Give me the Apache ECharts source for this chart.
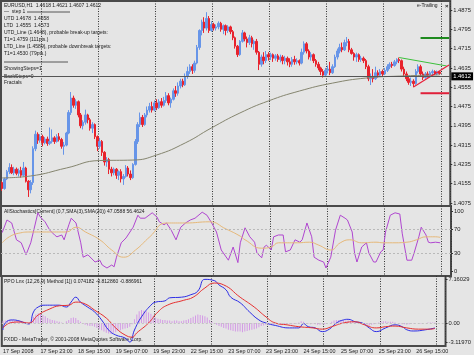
<!DOCTYPE html>
<html>
<head>
<meta charset="utf-8">
<title>EURUSD,H1</title>
<script src="https://cdn.jsdelivr.net/npm/echarts@6/dist/echarts.min.js"></script>
<style>
  html, body { margin:0; padding:0; background:#e5e5e5; }
  #chart { width:474px; height:355px; }
</style>
</head>
<body>
<div id="chart"></div>
<script>
// hourly bars, 17 Sep 07:00 .. 26 Sep 23:00
var opens = [
  1.4160,1.4135,1.4175,1.4205,1.4222,1.4200,1.4215,1.4198,1.4210,1.4190,
  1.4220,1.4165,1.4130,1.4160,1.4300,1.4360,1.4335,1.4350,1.4325,1.4340,
  1.4322,1.4330,1.4345,1.4330,1.4350,1.4338,1.4310,1.4315,1.4365,1.4450,
  1.4510,1.4480,1.4495,1.4440,1.4395,1.4410,1.4440,1.4420,1.4385,1.4400,
  1.4350,1.4310,1.4330,1.4285,1.4245,1.4255,1.4215,1.4200,1.4215,1.4190,
  1.4205,1.4175,1.4185,1.4220,1.4195,1.4180,1.4235,1.4330,1.4400,1.4430,
  1.4400,1.4440,1.4460,1.4475,1.4460,1.4490,1.4470,1.4495,1.4480,1.4500,
  1.4520,1.4490,1.4505,1.4540,1.4530,1.4560,1.4580,1.4565,1.4600,1.4620,
  1.4640,1.4625,1.4655,1.4720,1.4790,1.4825,1.4800,1.4840,1.4790,1.4815,
  1.4800,1.4805,1.4820,1.4795,1.4810,1.4790,1.4805,1.4785,1.4760,1.4725,
  1.4690,1.4745,1.4780,1.4755,1.4740,1.4760,1.4735,1.4745,1.4700,1.4650,
  1.4680,1.4665,1.4690,1.4680,1.4690,1.4675,1.4685,1.4670,1.4680,1.4665,
  1.4675,1.4660,1.4650,1.4670,1.4660,1.4665,1.4655,1.4700,1.4735,1.4705,
  1.4680,1.4690,1.4665,1.4650,1.4635,1.4620,1.4605,1.4625,1.4630,1.4615,
  1.4640,1.4680,1.4705,1.4720,1.4710,1.4740,1.4745,1.4710,1.4695,1.4680,
  1.4690,1.4670,1.4675,1.4665,1.4640,1.4590,1.4600,1.4590,1.4615,1.4605,
  1.4620,1.4610,1.4625,1.4640,1.4650,1.4645,1.4660,1.4670,1.4665,1.4630,
  1.4610,1.4590,1.4575,1.4580,1.4570,1.4620,1.4640,1.4610,1.4595,1.4610,
  1.4605,1.4615,1.4620,1.4610,1.4618
];
var closes = [
  1.4135,1.4175,1.4205,1.4222,1.4200,1.4215,1.4198,1.4210,1.4190,1.4220,
  1.4165,1.4130,1.4160,1.4300,1.4360,1.4335,1.4350,1.4325,1.4340,1.4322,
  1.4330,1.4345,1.4330,1.4350,1.4338,1.4310,1.4315,1.4365,1.4450,1.4510,
  1.4480,1.4495,1.4440,1.4395,1.4410,1.4440,1.4420,1.4385,1.4400,1.4350,
  1.4310,1.4330,1.4285,1.4245,1.4255,1.4215,1.4200,1.4215,1.4190,1.4205,
  1.4175,1.4185,1.4220,1.4195,1.4180,1.4235,1.4330,1.4400,1.4430,1.4400,
  1.4440,1.4460,1.4475,1.4460,1.4490,1.4470,1.4495,1.4480,1.4500,1.4520,
  1.4490,1.4505,1.4540,1.4530,1.4560,1.4580,1.4565,1.4600,1.4620,1.4640,
  1.4625,1.4655,1.4720,1.4790,1.4825,1.4800,1.4840,1.4790,1.4815,1.4800,
  1.4805,1.4820,1.4795,1.4810,1.4790,1.4805,1.4785,1.4760,1.4725,1.4690,
  1.4745,1.4780,1.4755,1.4740,1.4760,1.4735,1.4745,1.4700,1.4650,1.4680,
  1.4665,1.4690,1.4680,1.4690,1.4675,1.4685,1.4670,1.4680,1.4665,1.4675,
  1.4660,1.4650,1.4670,1.4660,1.4665,1.4655,1.4700,1.4735,1.4705,1.4680,
  1.4690,1.4665,1.4650,1.4635,1.4620,1.4605,1.4625,1.4630,1.4615,1.4640,
  1.4680,1.4705,1.4720,1.4710,1.4740,1.4745,1.4710,1.4695,1.4680,1.4690,
  1.4670,1.4675,1.4665,1.4640,1.4590,1.4600,1.4590,1.4615,1.4605,1.4620,
  1.4610,1.4625,1.4640,1.4650,1.4645,1.4660,1.4670,1.4665,1.4630,1.4610,
  1.4590,1.4575,1.4580,1.4570,1.4620,1.4640,1.4610,1.4595,1.4610,1.4605,
  1.4615,1.4620,1.4610,1.4618,1.4612
];
var lows = [
  1.4125,1.4130,1.4170,1.4195,1.4195,1.4190,1.4190,1.4185,1.4180,1.4185,
  1.4160,1.4100,1.4115,1.4150,1.4290,1.4320,1.4325,1.4310,1.4318,1.4312,
  1.4315,1.4322,1.4320,1.4325,1.4330,1.4300,1.4275,1.4310,1.4360,1.4440,
  1.4470,1.4465,1.4430,1.4385,1.4380,1.4400,1.4405,1.4375,1.4365,1.4340,
  1.4290,1.4300,1.4270,1.4230,1.4225,1.4195,1.4185,1.4190,1.4175,1.4170,
  1.4160,1.4150,1.4180,1.4185,1.4170,1.4175,1.4230,1.4320,1.4390,1.4390,
  1.4395,1.4430,1.4450,1.4450,1.4455,1.4460,1.4465,1.4470,1.4475,1.4490,
  1.4480,1.4470,1.4500,1.4515,1.4520,1.4550,1.4555,1.4560,1.4590,1.4610,
  1.4610,1.4615,1.4650,1.4710,1.4770,1.4780,1.4790,1.4780,1.4785,1.4790,
  1.4790,1.4795,1.4785,1.4775,1.4770,1.4780,1.4775,1.4750,1.4715,1.4680,
  1.4685,1.4740,1.4745,1.4720,1.4730,1.4720,1.4710,1.4690,1.4626,1.4640,
  1.4650,1.4655,1.4665,1.4668,1.4660,1.4665,1.4660,1.4658,1.4650,1.4650,
  1.4645,1.4638,1.4640,1.4648,1.4650,1.4645,1.4650,1.4690,1.4695,1.4670,
  1.4665,1.4655,1.4640,1.4625,1.4605,1.4595,1.4600,1.4612,1.4605,1.4610,
  1.4635,1.4670,1.4695,1.4700,1.4705,1.4725,1.4700,1.4690,1.4665,1.4660,
  1.4660,1.4660,1.4655,1.4630,1.4580,1.4564,1.4575,1.4585,1.4595,1.4598,
  1.4600,1.4605,1.4618,1.4630,1.4635,1.4640,1.4650,1.4655,1.4620,1.4600,
  1.4580,1.4565,1.4560,1.4555,1.4565,1.4612,1.4600,1.4585,1.4590,1.4595,
  1.4600,1.4605,1.4605,1.4605,1.4607
];
var highs = [
  1.4165,1.4180,1.4212,1.4240,1.4235,1.4225,1.4222,1.4218,1.4225,1.4245,
  1.4225,1.4170,1.4170,1.4310,1.4375,1.4368,1.4360,1.4358,1.4348,1.4350,
  1.4388,1.4380,1.4352,1.4360,1.4365,1.4345,1.4328,1.4370,1.4460,1.4535,
  1.4520,1.4505,1.4500,1.4448,1.4418,1.4462,1.4445,1.4428,1.4410,1.4405,
  1.4355,1.4345,1.4336,1.4290,1.4265,1.4262,1.4225,1.4222,1.4220,1.4210,
  1.4215,1.4195,1.4232,1.4228,1.4210,1.4240,1.4340,1.4410,1.4450,1.4440,
  1.4448,1.4475,1.4490,1.4495,1.4500,1.4505,1.4505,1.4510,1.4515,1.4535,
  1.4530,1.4512,1.4550,1.4560,1.4575,1.4590,1.4590,1.4612,1.4640,1.4650,
  1.4650,1.4665,1.4730,1.4795,1.4835,1.4845,1.4866,1.4850,1.4828,1.4822,
  1.4815,1.4828,1.4826,1.4815,1.4815,1.4812,1.4810,1.4792,1.4765,1.4730,
  1.4750,1.4792,1.4785,1.4765,1.4772,1.4768,1.4752,1.4755,1.4705,1.4690,
  1.4700,1.4705,1.4700,1.4698,1.4695,1.4692,1.4693,1.4690,1.4688,1.4685,
  1.4682,1.4675,1.4680,1.4685,1.4675,1.4670,1.4715,1.4745,1.4742,1.4712,
  1.4700,1.4695,1.4672,1.4660,1.4640,1.4630,1.4635,1.4645,1.4660,1.4650,
  1.4690,1.4715,1.4735,1.4740,1.4752,1.4763,1.4755,1.4718,1.4700,1.4698,
  1.4695,1.4685,1.4682,1.4672,1.4648,1.4612,1.4630,1.4640,1.4625,1.4630,
  1.4628,1.4635,1.4650,1.4658,1.4660,1.4668,1.4675,1.4678,1.4670,1.4640,
  1.4620,1.4600,1.4595,1.4588,1.4630,1.4650,1.4648,1.4620,1.4618,1.4620,
  1.4622,1.4628,1.4625,1.4624,1.4621
];
var lastPrice = 1.4612;

// moving average [bar, price]
var maLine = [[0,1.4179],[12,1.4187],[27,1.4220],[41,1.4251],[55,1.4253],[65,1.4274],[77,1.4324],
  [88,1.4386],[100,1.4448],[112,1.4498],[125,1.4539],[139,1.4572],[153,1.4593],[167,1.4601],[184,1.4606]];
// trend lines and targets [bar, price]
var utdLine = [[167,1.4678],[187,1.4643]];
var ltdLine = [[173,1.4556],[188,1.4647]];
var upTarget = [[176,1.4759],[188,1.4759]];
var downTarget = [[176,1.4530],[188,1.4530]];

// stochastic [bar, value]
var stochMain = [[0,64],[2,85],[4,80],[6,52],[8,47],[10,27],[12,47],[15,97],[16,90],[18,82],[20,68],[22,60],
  [23,57],[25,60],[26,52],[28,77],[29,88],[31,80],[33,47],[34,23],[36,27],[39,15],[41,18],[42,10],[44,5],
  [46,10],[47,7],[48,23],[50,47],[52,55],[55,73],[57,93],[58,88],[60,88],[63,97],[65,90],[66,82],[68,77],
  [69,80],[71,68],[73,52],[75,73],[77,80],[79,85],[81,88],[84,98],[86,93],[88,80],[90,65],[92,35],[95,18],
  [97,40],[99,14],[100,47],[102,72],[104,57],[106,48],[107,30],[109,22],[110,40],[111,43],[113,35],[114,57],
  [116,60],[118,60],[119,32],[121,35],[123,52],[125,48],[126,52],[128,80],[130,57],[131,23],[133,18],[135,15],
  [136,5],[138,23],[140,68],[142,93],[144,88],[145,85],[147,65],[148,30],[149,15],[151,40],[153,47],[154,30],
  [156,15],[157,15],[159,32],[160,35],[161,65],[163,93],[165,97],[167,95],[168,63],[170,18],[172,18],[173,30],
  [175,57],[176,73],[178,60],[179,48],[180,47],[182,48],[184,47]];
var stochSignal = [[0,47],[3,57],[7,63],[12,65],[20,65],[27,65],[31,73],[35,65],[41,52],[46,35],[51,23],
  [56,35],[62,57],[69,80],[77,80],[87,82],[94,70],[100,58],[102,52],[109,38],[113,40],[116,47],[124,47],
  [129,48],[133,43],[138,35],[142,47],[146,52],[151,47],[157,48],[160,47],[164,47],[170,48],[174,52],
  [178,57],[182,57],[184,56]];

// PPO [bar, value]
var ppoFast = [[0,-1.14],[1,0],[4,0.5],[7,0.33],[11,-0.16],[13,1.8],[15,2.6],[18,2.9],[24,2.9],[27,2.6],
  [29,3.4],[31,4.2],[33,3.4],[36,2.6],[39,1.8],[42,0.5],[45,-1.14],[48,-1.95],[52,-2.44],[54,-3.1],[56,-1.14],
  [59,1.0],[63,2.9],[65,3.4],[69,3.6],[71,4.1],[76,4.2],[80,4.6],[83,5.2],[86,7.1],[90,6.9],[92,6.2],[95,5.4],
  [97,4.2],[101,3.3],[105,1.8],[109,0.5],[112,0],[116,-0.4],[122,-0.8],[126,-0.8],[128,-0.1],[130,-0.6],
  [133,-0.8],[136,-1.4],[139,-1.0],[142,0],[145,0.5],[147,0.6],[150,0.2],[153,0],[156,-0.8],[159,-1.4],
  [163,-0.8],[167,-0.3],[170,-0.6],[172,-1.1],[175,-1.3],[180,-1.1],[184,-0.81]];
var ppoSlow = [[0,-0.8],[3,0],[7,0.16],[11,0],[15,1.3],[20,2.3],[24,2.8],[28,2.9],[31,3.4],[35,3.1],[39,2.1],
  [44,0.8],[48,-0.8],[52,-1.95],[55,-2.3],[57,-1.6],[62,0],[66,1.8],[70,2.9],[77,3.7],[81,4.2],[86,5.7],
  [90,6.5],[94,6.2],[101,4.2],[107,2.6],[112,1.0],[116,0],[121,-0.3],[126,-0.6],[132,-0.8],[136,-1.0],
  [140,-0.6],[145,0],[150,0.2],[154,-0.3],[159,-0.8],[163,-0.6],[167,-0.5],[172,-0.8],[177,-1.0],[182,-1.0],
  [184,-0.89]];
var ppoHist = [
  0.3,0.4,0.5,0.5,
  0.5,0.4,0.5,0.4,0.3,0.2,0.1,-0.1,
  0.5,1.0,1.4,1.6,1.5,1.3,1.1,
  0.8,0.6,0.5,0.4,0.3,0.2,0.1,0.0,0.3,
  0.5,0.8,0.9,0.8,0.5,0.2,
  -0.1,-0.3,-0.4,-0.5,-0.5,-0.6,-0.8,
  -1.0,-1.2,-1.4,-1.6,-1.7,-1.8,-1.6,-1.5,-1.3,-1.2,-1.0,-0.9,-0.8,-0.6,-0.2,
  0.6,1.4,1.9,2.1,2.0,1.9,1.7,1.5,1.2,
  0.9,0.7,0.6,0.5,0.5,0.4,0.4,0.3,0.4,0.4,0.3,0.3,0.4,0.5,0.6,
  0.8,1.0,1.2,1.4,1.3,1.2,1.1,0.9,0.5,
  0.2,-0.1,-0.3,-0.5,-0.6,-0.8,-0.9,-1.1,-1.2,-1.3,-1.4,-1.4,
  -1.4,-1.5,-1.4,-1.3,-1.2,-1.1,-1.0,-0.9,-0.7,-0.5,-0.4,-0.3,
  -0.2,-0.2,-0.3,-0.2,-0.2,-0.3,-0.2,-0.2,-0.1,-0.1,-0.2,-0.1,-0.1,0.1,0.3,0.2,0.0,-0.1,-0.2,-0.1,-0.2,-0.3,-0.3,-0.2,-0.2,-0.1,0.0,
  0.2,0.4,0.5,0.5,0.5,0.5,0.4,0.4,0.3,0.2,0.1,
  0.0,-0.1,-0.2,-0.2,-0.3,-0.4,-0.3,-0.2,-0.1,0.1,0.2,0.3,0.3,0.2,0.2,0.2,0.1,0.0,-0.1,-0.2,-0.2,-0.3,-0.2,-0.1,-0.1,0.0,0.0,-0.1,0.0,0.0,0.1,0.1,0.1,0.1
];

// axis ticks
var priceTicks = [1.4075,1.4155,1.4235,1.4315,1.4395,1.4475,1.4555,1.4635,1.4715,1.4795,1.4875];
var stochTicks = [0,30,70,100];
var ppoTicks = [-3.1197,0,7.16029];
var ppoTickLabels = ['-3.11970','0.00','7.16029'];
var tickBars = [0,16,32,48,64,80,96,112,128,144,160,176];
var tickLabels = ['17 Sep 2008','17 Sep 23:00','18 Sep 15:00','19 Sep 07:00','19 Sep 23:00','22 Sep 15:00',
  '23 Sep 07:00','23 Sep 23:00','24 Sep 15:00','25 Sep 07:00','25 Sep 23:00','26 Sep 15:00'];
var dayLines = [17,41,65,89,113,137,161,185];

// legend texts
var infoLines = ['EURUSD,H1  1.4618 1.4621 1.4607 1.4612', '\u2014  step 1', 'UTD 1.4678  1.4658', 'LTD  1.4555  1.4573',
  'UTD_Line (1.4648), probable break-up targets:', 'T1=1.4759 (111pts.)',
  'LTD_Line (1.4589), probable downbreak targets:', 'T1=1.4530 (79pts.)', '',
  'ShowingSteps=1', 'BackSteps=0', 'Fractals'];
var infoY = [6,12,19,26,33,40,47,54,62,69,77,83];

var candles = [];
for (var i = 0; i < opens.length; i++) {
    candles.push([opens[i], closes[i], lows[i], highs[i]]);
}
var slots = [];
for (var k = 0; k < opens.length + 4; k++) slots.push(String(k));

var FONT = 'Liberation Sans';
var frame = '#4a4a4a';
var bg = '#e5e5e5';

function xAxisFor(g, showLabels) {
    return {
        type: 'category', gridIndex: g, data: slots, boundaryGap: true,
        axisLine: {show: false},
        axisTick: {show: false},
        axisLabel: {
            show: showLabels,
            interval: function (idx) { return tickBars.indexOf(idx) >= 0; },
            formatter: function (v, idx) { return tickLabels[tickBars.indexOf(Number(v))] || ''; },
            align: 'left', fontSize: 5.4, fontFamily: FONT, color: '#222', margin: 3
        },
        splitLine: {
            show: true,
            interval: function (idx) { return dayLines.indexOf(idx) >= 0; },
            lineStyle: {color: '#333', type: [1, 1.5], width: 1}
        }
    };
}

var graphics = [];
for (var j = 0; j < infoLines.length; j++) {
    if (!infoLines[j]) continue;
    graphics.push({type: 'text', x: 4, y: infoY[j], style: {text: infoLines[j], fill: '#1a1a1a',
        font: '5px ' + FONT, verticalAlign: 'middle'}});
}
graphics.push({type: 'line', shape: {x1: 27, y1: 12, x2: 70, y2: 12}, style: {stroke: '#333', lineWidth: 0.8}});
graphics.push({type: 'line', shape: {x1: 4, y1: 62, x2: 68, y2: 62}, style: {stroke: '#333', lineWidth: 0.8}});
graphics.push({type: 'text', x: 417, y: 6, style: {text: 'e-Trailing', fill: '#1a1a1a', font: '5px ' + FONT, verticalAlign: 'middle'}});
graphics.push({type: 'text', x: 445, y: 6, style: {text: '\u00d7', fill: '#1a1a1a', font: 'bold 6px ' + FONT, verticalAlign: 'middle'}});
graphics.push({type: 'text', x: 4, y: 212, style: {text: 'AllStochastics[Current] (0,7,SMA(3),SMA(20)) 47.0588 56.4624',
    fill: '#1a1a1a', font: '5px ' + FONT, verticalAlign: 'middle'}});
graphics.push({type: 'text', x: 4, y: 282, style: {text: 'PPO Lnx (12,26,9) Method [1]) 0.074182 -0.812860 -0.886961',
    fill: '#1a1a1a', font: '5px ' + FONT, verticalAlign: 'middle'}});
graphics.push({type: 'text', x: 4, y: 340, style: {text: 'FXDD - MetaTrader, \u00a9 2001-2008 MetaQuotes Software Corp.',
    fill: '#1a1a1a', font: '5px ' + FONT, verticalAlign: 'middle'}});

var chart = echarts.init(document.getElementById('chart'));
var option = {
    animation: false,
    backgroundColor: bg,
    grid: [
        {left: 1, right: 23, top: 1, height: 205, show: true, borderColor: frame, borderWidth: 2, backgroundColor: bg},
        {left: 1, right: 23, top: 206, height: 70, show: true, borderColor: frame, borderWidth: 2, backgroundColor: bg},
        {left: 1, right: 23, top: 276, height: 70, show: true, borderColor: frame, borderWidth: 2, backgroundColor: bg}
    ],
    xAxis: [xAxisFor(0, false), xAxisFor(1, false), xAxisFor(2, true)],
    yAxis: [
        {gridIndex: 0, position: 'right', min: 1.406256, max: 1.491231, splitLine: {show: false},
         axisLine: {show: false}, axisTick: {show: true, customValues: priceTicks, length: 2, lineStyle: {color: '#333'}},
         axisLabel: {customValues: priceTicks, formatter: function (v) { return v.toFixed(4); },
            fontSize: 5.8, fontFamily: FONT, color: '#222', margin: 3}},
        {gridIndex: 1, position: 'right', min: -8.33, max: 108.33, splitLine: {show: false},
         axisLine: {show: false}, axisTick: {show: true, customValues: stochTicks, length: 2, lineStyle: {color: '#333'}},
         axisLabel: {customValues: stochTicks, fontSize: 5.8, fontFamily: FONT, color: '#222', margin: 3}},
        {gridIndex: 2, position: 'right', min: -3.743, max: 7.648, splitLine: {show: false},
         axisLine: {show: false}, axisTick: {show: true, customValues: ppoTicks, length: 2, lineStyle: {color: '#333'}},
         axisLabel: {customValues: ppoTicks, formatter: function (v) { return ppoTickLabels[ppoTicks.indexOf(v)] || ''; },
            fontSize: 5.8, fontFamily: FONT, color: '#222', margin: 3}}
    ],
    graphic: graphics,
    series: [
        {
            type: 'candlestick', xAxisIndex: 0, yAxisIndex: 0, data: candles, barWidth: 2,
            itemStyle: {color: '#6795e8', color0: '#e8222c', borderColor: '#6795e8', borderColor0: '#e8222c', borderWidth: 1},
            markLine: {
                silent: true, symbol: 'none', animation: false,
                data: [{yAxis: lastPrice}],
                lineStyle: {color: '#555', width: 1, type: 'solid'},
                label: {position: 'end', formatter: lastPrice.toFixed(4), backgroundColor: '#000', color: '#fff',
                    fontSize: 5.8, fontFamily: FONT, padding: [1, 2, 1, 2], distance: 1}
            }
        },
        {type: 'line', xAxisIndex: 0, yAxisIndex: 0, data: maLine, smooth: true, symbol: 'none',
         lineStyle: {color: '#85856f', width: 1}},
        {type: 'line', xAxisIndex: 0, yAxisIndex: 0, data: utdLine, symbol: 'none', lineStyle: {color: '#3cc03c', width: 1}},
        {type: 'line', xAxisIndex: 0, yAxisIndex: 0, data: ltdLine, symbol: 'none', lineStyle: {color: '#e8203a', width: 1.2}},
        {type: 'line', xAxisIndex: 0, yAxisIndex: 0, data: upTarget, symbol: 'none', lineStyle: {color: '#1f8a1f', width: 2}},
        {type: 'line', xAxisIndex: 0, yAxisIndex: 0, data: downTarget, symbol: 'none', lineStyle: {color: '#e0203a', width: 2}},
        {
            type: 'line', xAxisIndex: 1, yAxisIndex: 1, data: stochMain, symbol: 'none',
            lineStyle: {color: '#b046d0', width: 1},
            markLine: {silent: true, symbol: 'none', animation: false, label: {show: false},
                data: [{yAxis: 30}, {yAxis: 70}], lineStyle: {color: '#b9b9b9', type: [2, 2], width: 1}}
        },
        {type: 'line', xAxisIndex: 1, yAxisIndex: 1, data: stochSignal, smooth: true, symbol: 'none',
         lineStyle: {color: '#e6b878', width: 1}},
        {
            type: 'bar', xAxisIndex: 2, yAxisIndex: 2, data: ppoHist, barWidth: 1,
            itemStyle: {color: '#d49ae6'},
            markLine: {silent: true, symbol: 'none', animation: false, label: {show: false},
                data: [{yAxis: 0}], lineStyle: {color: '#c4c4c4', type: [2, 2], width: 1}}
        },
        {type: 'line', xAxisIndex: 2, yAxisIndex: 2, data: ppoFast, smooth: true, symbol: 'none',
         lineStyle: {color: '#2d2de6', width: 1}},
        {type: 'line', xAxisIndex: 2, yAxisIndex: 2, data: ppoSlow, smooth: true, symbol: 'none',
         lineStyle: {color: '#e63030', width: 1}}
    ]
};
chart.setOption(option);
</script>
</body>
</html>
